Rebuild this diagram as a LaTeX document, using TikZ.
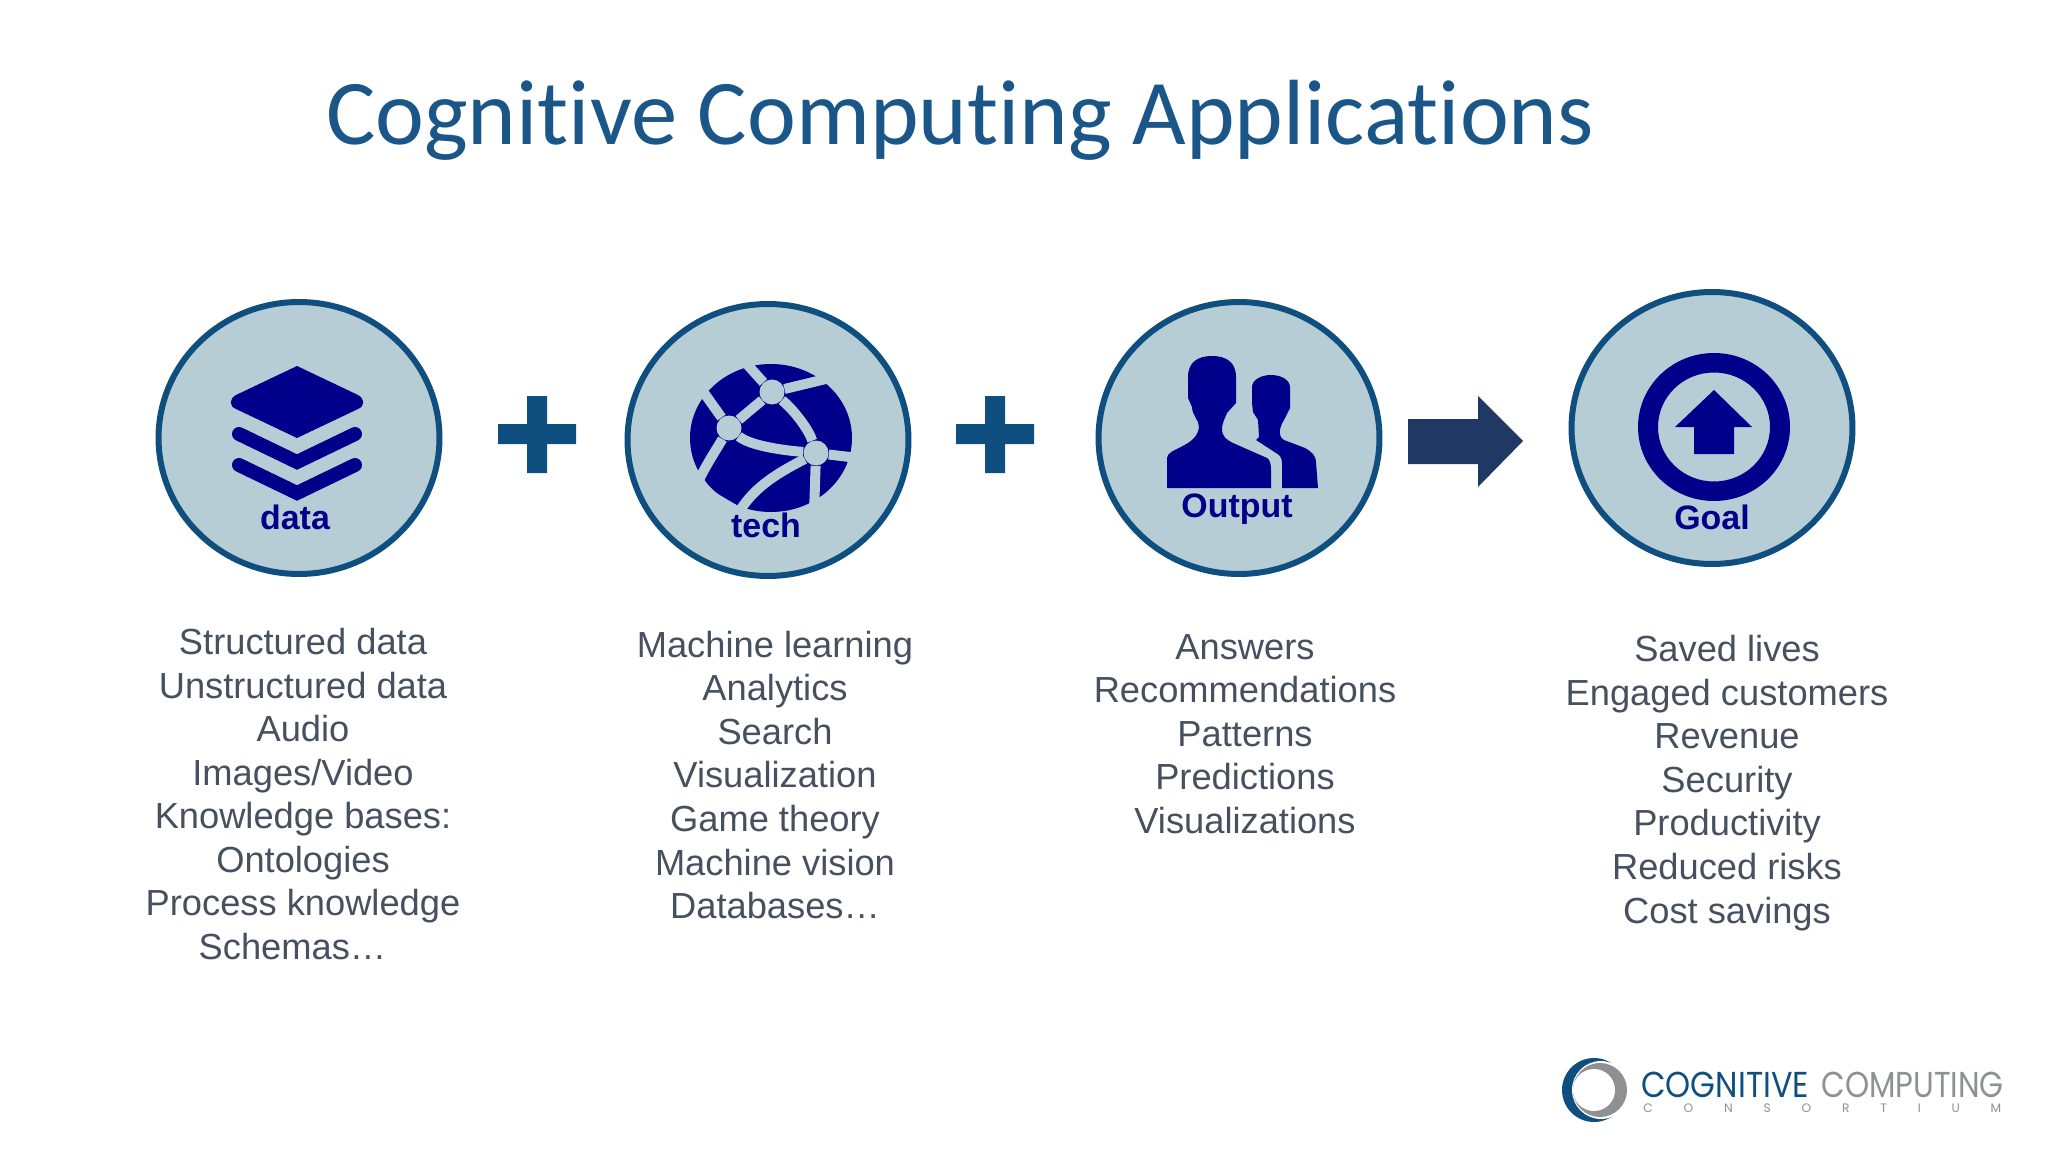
\documentclass[tikz,border=0pt]{standalone}
\usepackage{fontspec}
\usetikzlibrary{shapes.geometric}
\setmainfont{Liberation Sans}
\newfontfamily\titlefont[Ligatures=NoCommon]{Carlito}
\newfontfamily\logofont{Poppins}
\definecolor{hubfill}{HTML}{B7CDD5}
\definecolor{hubline}{HTML}{0F4F80}
\definecolor{iconblue}{HTML}{00008B}
\definecolor{listgrey}{HTML}{46505E}
\definecolor{titleblue}{HTML}{1A5788}
\definecolor{arrowblue}{HTML}{1F3864}
\definecolor{logogrey}{HTML}{8E9092}
\tikzset{
	hub/.style={ellipse,draw=hubline,fill=hubfill,line width=0.12cm,inner sep=0pt,minimum width=5.62cm,minimum height=5.44cm},
	hublabel/.style={anchor=base,text=iconblue,font=\fontsize{19.3}{22}\selectfont\bfseries},
	itemlist/.style={align=center,text=listgrey,font=\fontsize{20.65}{24.8}\selectfont},
	plussign/.style={fill=hubline},
	net/.style={draw=hubfill,line width=0.2cm},
	netnode/.style={circle,fill=hubfill,inner sep=0pt,minimum size=0.5cm},
	logotext/.style={anchor=base west,inner sep=0pt,font=\logofont\fontsize{20.5}{22}\selectfont,transform shape}
}
\begin{document}
\begin{tikzpicture}[x=0.02cm,y=-0.02cm]
	\useasboundingbox (0,0) rectangle (2048,1152);
	\node[anchor=base west,text=titleblue,font=\titlefont\fontsize{52.7}{60}\selectfont] (title) at (320,145) {Cognitive Computing Applications};
	% four circles
	\node[hub] (data) at (299,438) {};
	\node[hub] (tech) at (768,440) {};
	\node[hub] (output) at (1239,438) {};
	\node[hub] (goal) at (1712,428) {};
	% layers
	\fill[iconblue] (297,366) -- (358,395) .. controls (365,399) and (365,406) .. (358,409) -- (297,438) -- (236,409) .. controls (229,406) and (229,399) .. (236,395) -- cycle;
	\draw[iconblue,line width=0.28cm,line cap=round] (239,434) -- (297,462) -- (355,434);
	\draw[iconblue,line width=0.28cm,line cap=round] (239,465) -- (297,493) -- (355,465);
	\node[hublabel] (datalabel) at (295,529) {data};
	% globe
	\fill[iconblue] (771,438) ellipse [x radius=81,y radius=74];
	\fill[hubfill] (705,393) -- (727,373) -- (700,366) -- (690,385) -- cycle;
	\fill[hubfill] (699,472) -- (711,490) -- (740,507) -- (730,516) -- (690,500) -- cycle;
	\node[netnode] (n1) at (772,392) {};
	\node[netnode] (n2) at (729,428) {};
	\node[netnode] (n3) at (816,453) {};
	\coordinate (e1) at (745,362);
	\coordinate (e2) at (830,378);
	\coordinate (e3) at (702,390);
	\coordinate (e4) at (698,482);
	\coordinate (e5) at (858,458);
	\coordinate (e6) at (738,514);
	\coordinate (e7) at (814,514);
	\draw[net] (n1) -- (e1);
	\draw[net] (n1) -- (e2);
	\draw[net] (n2) -- (e3);
	\draw[net] (n1) -- (n2);
	\draw[net] (n3) -- (e5);
	\draw[net] (n3) -- (e7);
	\draw[net] (n1) .. controls (794,410) and (809,430) .. (n3);
	\draw[net] (n2) .. controls (749,445) and (779,450) .. (n3);
	\draw[net] (n2) .. controls (716,450) and (706,465) .. (e4);
	\draw[net] (n3) .. controls (784,470) and (754,485) .. (e6);
	\node[hublabel] (techlabel) at (766,537) {tech};
	% people
	\fill[iconblue] (1252,387) .. controls (1252,380) and (1261,375) .. (1271,375) .. controls (1281,375) and (1290,380) .. (1290,387) -- (1290,408) -- (1284,420) .. controls (1280,426) and (1277,436) .. (1284,440) -- (1305,448) .. controls (1312,452) and (1316,456) .. (1316,462) -- (1318,488) -- (1282,488) -- (1282,463) .. controls (1282,458) and (1280,455) .. (1276,453) -- (1256,440) -- (1259,437) -- (1258,420) -- (1253,412) -- (1252,403) -- cycle;
	\fill[iconblue] (1167,488) -- (1167,458) .. controls (1167,448) and (1197,447) .. (1199,427) .. controls (1199,420) and (1192,415) .. (1192,407) -- (1188,398) -- (1188,377) .. controls (1188,362) and (1198,356) .. (1212,356) .. controls (1226,356) and (1236,362) .. (1236,377) -- (1236,403) -- (1227,413) .. controls (1224,420) and (1222,424) .. (1222,429) .. controls (1222,437) and (1227,440) .. (1233,443) -- (1267,458) .. controls (1270,460) and (1271,464) .. (1271,470) -- (1271,488) -- cycle;
	\node[hublabel] (outputlabel) at (1237,517) {Output};
	% goal
	\fill[iconblue,even odd rule] (1714,427) ellipse [x radius=76,y radius=74] (1714,427) ellipse [x radius=56,y radius=54.5];
	\fill[iconblue] (1714,390) -- (1752,427) -- (1734,427) -- (1734,454) -- (1694,454) -- (1694,427) -- (1675,427) -- cycle;
	\node[hublabel] (goallabel) at (1712,529) {Goal};
	% plus signs and arrow
	\fill[plussign] (498,424) -- (527,424) -- (527,396) -- (547,396) -- (547,424) -- (576,424) -- (576,444) -- (547,444) -- (547,473) -- (527,473) -- (527,444) -- (498,444) -- cycle;
	\fill[plussign] (956,424) -- (985,424) -- (985,396) -- (1005,396) -- (1005,424) -- (1034,424) -- (1034,444) -- (1005,444) -- (1005,473) -- (985,473) -- (985,444) -- (956,444) -- cycle;
	\fill[arrowblue] (1408,419) -- (1478,419) -- (1478,396) -- (1523,441) -- (1478,487) -- (1478,464) -- (1408,464) -- cycle;
	% lists
	\node[itemlist] (datalist) at (303,794) {Structured data\\Unstructured data\\Audio\\Images/Video\\Knowledge bases:\\Ontologies\\Process knowledge\\Schemas…\hspace*{12pt}};
	\node[itemlist] (techlist) at (775,775) {Machine learning\\Analytics\\Search\\Visualization\\Game theory\\Machine vision\\Databases…};
	\node[itemlist] (outputlist) at (1245,734) {Answers\\Recommendations\\Patterns\\Predictions\\Visualizations};
	\node[itemlist] (goallist) at (1727,783) {Saved lives\\Engaged customers\\Revenue\\Security\\Productivity\\Reduced risks\\Cost savings};
	% logo
	\fill[hubline] (1594,1090) circle (32);
	\fill[white] (1601,1090) circle (29);
	\fill[logogrey] (1600,1090) circle (27);
	\fill[white] (1594,1090) circle (21);
	\node[logotext,text=hubline,xscale=0.885] (logoa) at (1641,1097) {COGNITIVE};
	\node[logotext,text=logogrey,xscale=0.853] (logob) at (1821,1097) {COMPUTING};
	\node[anchor=base west,inner sep=0pt,text=logogrey,font=\logofont\fontsize{7}{8}\selectfont] (logoc) at (1643,1112) {\makebox[7.16cm][s]{C\hfill O\hfill N\hfill S\hfill O\hfill R\hfill T\hfill I\hfill U\hfill M}};
\end{tikzpicture}
\end{document}
